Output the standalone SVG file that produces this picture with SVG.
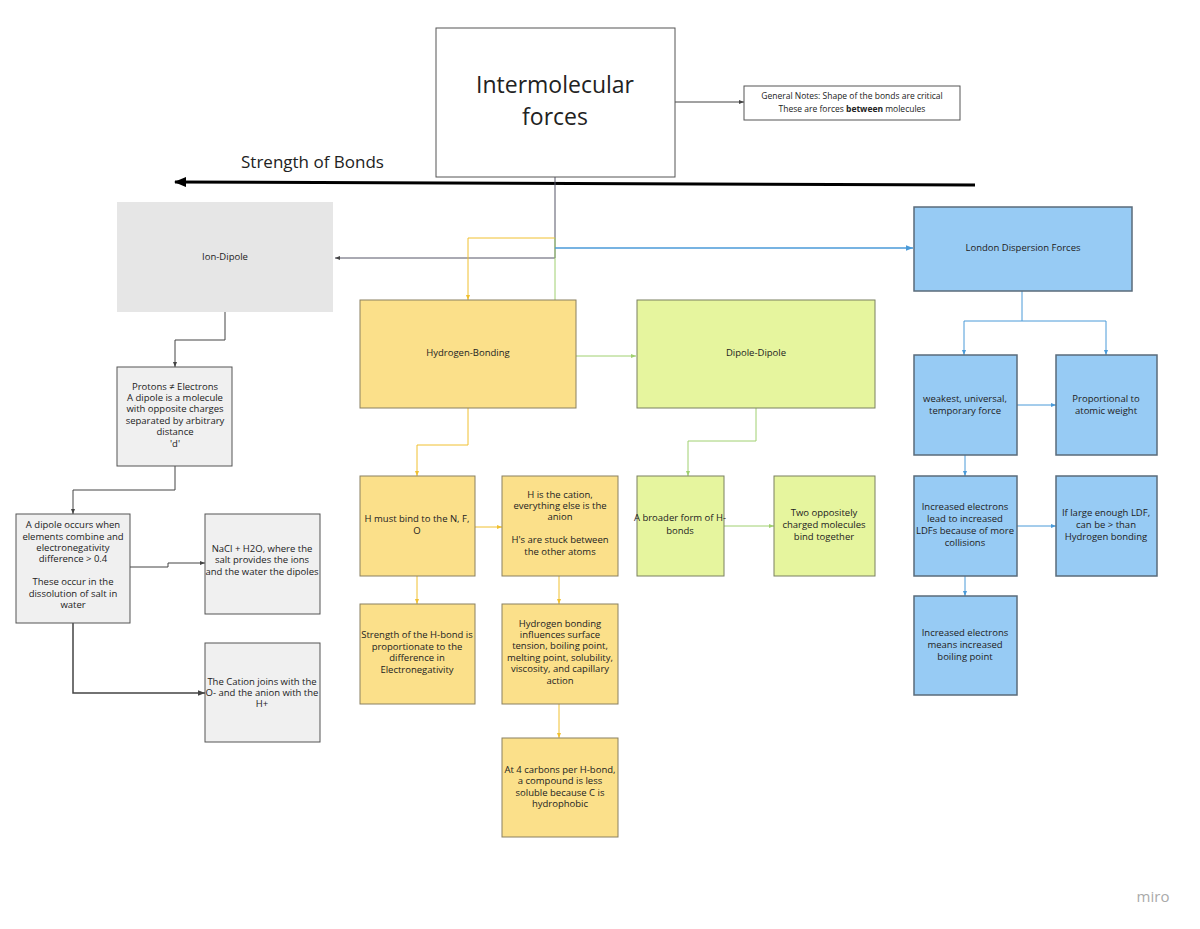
<svg xmlns="http://www.w3.org/2000/svg" width="1200" height="929" viewBox="0 0 1200 929">
<style>
text{font-family:"Open Sans","Liberation Sans",sans-serif;font-size:9.5px;fill:#222;text-anchor:middle}
.g{fill:#f0f0f0;stroke:#555;stroke-width:1}
.y{fill:#fbe08a;stroke:#8a8060;stroke-width:1}
.l{fill:#e6f59e;stroke:#7a8060;stroke-width:1}
.b{fill:#97cbf4;stroke:#5a6b7a;stroke-width:1.5}
.c{fill:none;stroke-width:1}
</style>
<defs>
<marker id="ak" markerWidth="6" markerHeight="6" refX="5" refY="3" orient="auto"><path d="M0,1 L5,3 L0,5z" fill="#444"/></marker>
<marker id="ay" markerWidth="6" markerHeight="6" refX="5" refY="3" orient="auto"><path d="M0,1 L5,3 L0,5z" fill="#f0c030"/></marker>
<marker id="al" markerWidth="6" markerHeight="6" refX="5" refY="3" orient="auto"><path d="M0,1 L5,3 L0,5z" fill="#a0d070"/></marker>
<marker id="ab" markerWidth="6" markerHeight="6" refX="5" refY="3" orient="auto"><path d="M0,1 L5,3 L0,5z" fill="#4a9ad8"/></marker>
<marker id="big" markerWidth="12" markerHeight="10" refX="11" refY="5" orient="auto" markerUnits="userSpaceOnUse"><path d="M0,0 L12,5 L0,10z" fill="#000"/></marker>
</defs>
<rect width="1200" height="929" fill="#fff"/>
<g id="connectors">
<path class="c" stroke="#444" d="M675,102 H744" marker-end="url(#ak)"/>
<path fill="none" stroke="#000" stroke-width="3" d="M975,185 L175,182" marker-end="url(#big)"/>
<path class="c" stroke="#556" d="M555,177 V258 H335" marker-end="url(#ak)"/>
<path class="c" stroke="#f0c030" d="M555,238 H468 V300" marker-end="url(#ay)"/>
<path class="c" stroke="#a0d070" d="M555,238 V356 H636" marker-end="url(#al)"/>
<path fill="none" stroke="#4a9ad8" stroke-width="1.5" d="M555,248 H913" marker-end="url(#ab)"/>
<path class="c" stroke="#4a9ad8" d="M1022,291 V321 H964 V355" marker-end="url(#ab)"/>
<path class="c" stroke="#4a9ad8" d="M1022,321 H1106 V355" marker-end="url(#ab)"/>
<path class="c" stroke="#4a9ad8" d="M1017,405 H1056" marker-end="url(#ab)"/>
<path class="c" stroke="#4a9ad8" d="M965,455 V476" marker-end="url(#ab)"/>
<path class="c" stroke="#4a9ad8" d="M1017,526 H1056" marker-end="url(#ab)"/>
<path class="c" stroke="#4a9ad8" d="M965,576 V596" marker-end="url(#ab)"/>
<path class="c" stroke="#444" d="M225,312 V340 H175 V367" marker-end="url(#ak)"/>
<path class="c" stroke="#444" d="M175,466 V490 H73 V514" marker-end="url(#ak)"/>
<path class="c" stroke="#444" d="M130,567 H168 V563 H205" marker-end="url(#ak)"/>
<path fill="none" stroke="#444" stroke-width="1.5" d="M73,623 V693 H205" marker-end="url(#ak)"/>
<path class="c" stroke="#f0c030" d="M468,408 V445 H417 V476" marker-end="url(#ay)"/>
<path class="c" stroke="#f0c030" d="M475,527 H502" marker-end="url(#ay)"/>
<path class="c" stroke="#f0c030" d="M417,576 V604" marker-end="url(#ay)"/>
<path class="c" stroke="#f0c030" d="M559,576 V604" marker-end="url(#ay)"/>
<path class="c" stroke="#f0c030" d="M559,704 V738" marker-end="url(#ay)"/>
<path class="c" stroke="#a0d070" d="M756,408 V441 H688 V476" marker-end="url(#al)"/>
<path class="c" stroke="#a0d070" d="M724,526 H774" marker-end="url(#al)"/>
</g>
<g id="title"><text x="241" y="168" style="font-size:17px;text-anchor:start">Strength of Bonds</text></g>
<g id="main"><rect x="436" y="28" width="239" height="149" fill="#fff" stroke="#555"/>
<text x="555" y="93" style="font-size:23px">Intermolecular</text><text x="555" y="125" style="font-size:23px">forces</text></g>
<g id="notes"><rect x="744" y="86" width="216" height="34" fill="#fff" stroke="#555"/>
<text x="852" y="99" style="font-size:8.5px">General Notes: Shape of the bonds are critical</text>
<text x="852" y="112" style="font-size:8.5px">These are forces <tspan font-weight="bold">between</tspan> molecules</text></g>
<g id="ion"><rect x="117" y="202" width="216" height="110" fill="#e6e6e6"/><text x="225" y="260">Ion-Dipole</text></g>
<g id="protons"><rect class="g" x="117" y="367" width="115" height="99"/>
<text x="175" y="390">Protons ≠ Electrons</text><text x="175" y="401">A dipole is a molecule</text><text x="175" y="412">with opposite charges</text><text x="175" y="424">separated by arbitrary</text><text x="175" y="435">distance</text><text x="175" y="447">'d'</text></g>
<g id="dipoleoccurs"><rect class="g" x="16" y="514" width="114" height="109"/>
<text x="73" y="528">A dipole occurs when</text><text x="73" y="540">elements combine and</text><text x="73" y="551">electronegativity</text><text x="73" y="562">difference &gt; 0.4</text><text x="73" y="585">These occur in the</text><text x="73" y="597">dissolution of salt in</text><text x="73" y="608">water</text></g>
<g id="nacl"><rect class="g" x="205" y="514" width="115" height="100"/>
<text x="262" y="552">NaCl + H2O, where the</text><text x="262" y="563">salt provides the ions</text><text x="262" y="575">and the water the dipoles</text></g>
<g id="cation"><rect class="g" x="205" y="643" width="115" height="99"/>
<text x="262" y="685">The Cation joins with the</text><text x="262" y="696">O- and the anion with the</text><text x="262" y="707">H+</text></g>
<g id="hbond"><rect class="y" x="360" y="300" width="216" height="108"/><text x="468" y="356">Hydrogen-Bonding</text></g>
<g id="dd"><rect class="l" x="637" y="300" width="238" height="108"/><text x="756" y="356">Dipole-Dipole</text></g>
<g id="hmust"><rect class="y" x="360" y="476" width="115" height="100"/><text x="417" y="522">H must bind to the N, F,</text><text x="417" y="534">O</text></g>
<g id="hcation"><rect class="y" x="502" y="476" width="116" height="100"/>
<text x="560" y="498">H is the cation,</text><text x="560" y="509">everything else is the</text><text x="560" y="520">anion</text><text x="560" y="543">H's are stuck between</text><text x="560" y="555">the other atoms</text></g>
<g id="strength"><rect class="y" x="360" y="604" width="115" height="100"/>
<text x="417" y="638">Strength of the H-bond is</text><text x="417" y="650">proportionate to the</text><text x="417" y="661">difference in</text><text x="417" y="673">Electronegativity</text></g>
<g id="influences"><rect class="y" x="502" y="604" width="116" height="100"/>
<text x="560" y="627">Hydrogen bonding</text><text x="560" y="638">influences surface</text><text x="560" y="649">tension, boiling point,</text><text x="560" y="661">melting point, solubility,</text><text x="560" y="672">viscosity, and capillary</text><text x="560" y="684">action</text></g>
<g id="carbons"><rect class="y" x="502" y="738" width="116" height="99"/>
<text x="560" y="773">At 4 carbons per H-bond,</text><text x="560" y="784">a compound is less</text><text x="560" y="796">soluble because C is</text><text x="560" y="807">hydrophobic</text></g>
<g id="broader"><rect class="l" x="637" y="476" width="87" height="100"/><text x="680" y="521">A broader form of H-</text><text x="680" y="534">bonds</text></g>
<g id="two"><rect class="l" x="774" y="476" width="101" height="100"/><text x="824" y="516">Two oppositely</text><text x="824" y="528">charged molecules</text><text x="824" y="540">bind together</text></g>
<g id="ldf"><rect class="b" x="914" y="207" width="218" height="84"/><text x="1023" y="251">London Dispersion Forces</text></g>
<g id="weakest"><rect class="b" x="914" y="355" width="103" height="100"/><text x="965" y="402">weakest, universal,</text><text x="965" y="414">temporary force</text></g>
<g id="prop"><rect class="b" x="1056" y="355" width="101" height="100"/><text x="1106" y="402">Proportional to</text><text x="1106" y="414">atomic weight</text></g>
<g id="inclead"><rect class="b" x="914" y="476" width="103" height="100"/>
<text x="965" y="510">Increased electrons</text><text x="965" y="522">lead to increased</text><text x="965" y="534">LDFs because of more</text><text x="965" y="546">collisions</text></g>
<g id="large"><rect class="b" x="1056" y="476" width="101" height="100"/><text x="1106" y="516">If large enough LDF,</text><text x="1106" y="528">can be &gt; than</text><text x="1106" y="540">Hydrogen bonding</text></g>
<g id="incmeans"><rect class="b" x="914" y="596" width="103" height="99"/><text x="965" y="636">Increased electrons</text><text x="965" y="648">means increased</text><text x="965" y="660">boiling point</text></g>
<text x="1153" y="902" style="font-size:15px;fill:#aaa">miro</text>
</svg>
